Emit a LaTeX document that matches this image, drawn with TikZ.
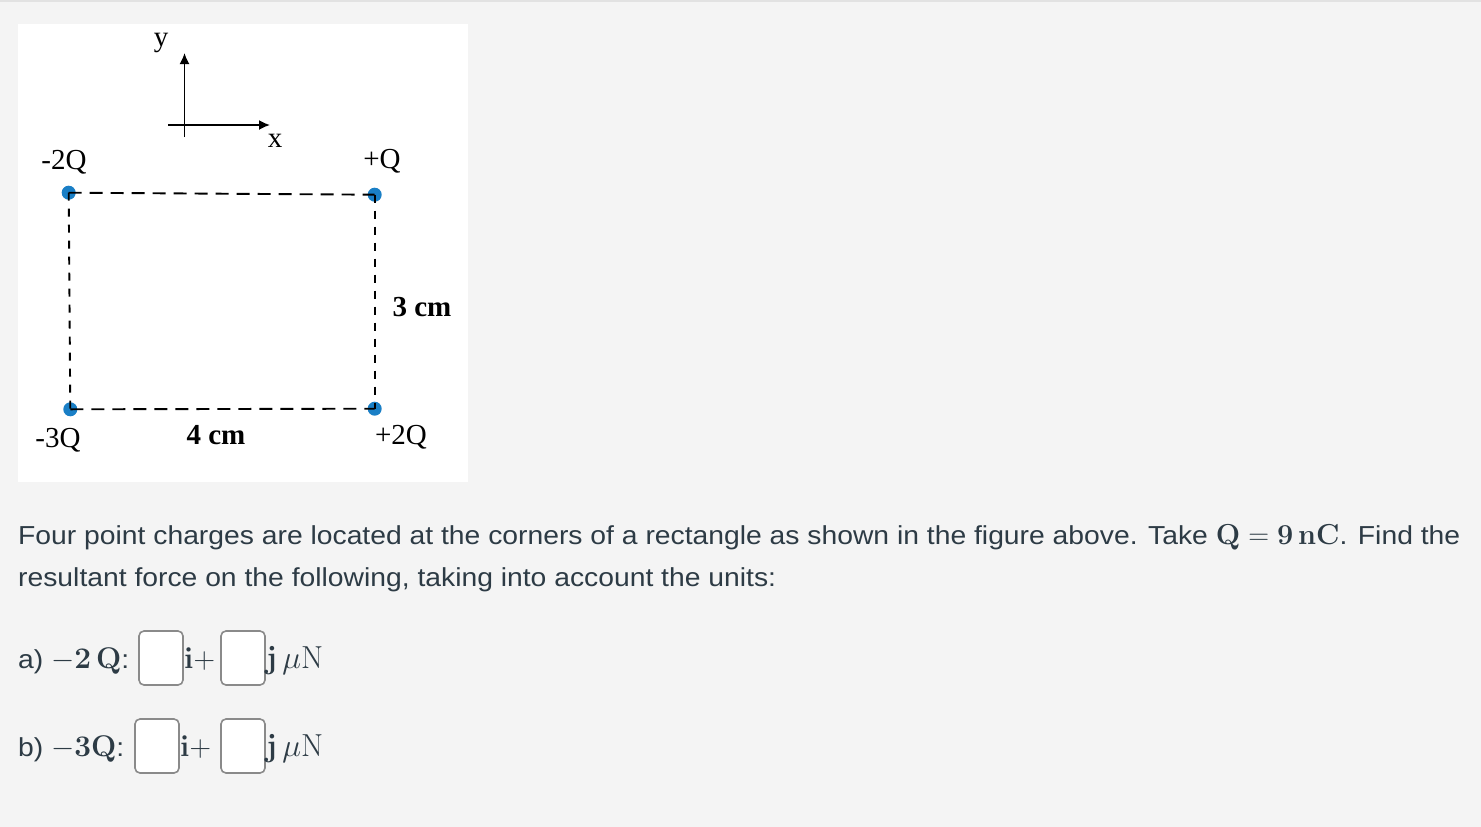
\documentclass[tikz,border=0pt]{standalone}
\usepackage{amsmath}
\usepackage{graphicx}
\usepackage[no-math]{fontspec}
\setmainfont{Liberation Serif}
\newfontfamily\uisans[FakeStretch=1.088]{Liberation Sans}
\usetikzlibrary{arrows.meta}
\definecolor{bgc}{HTML}{F4F4F4}
\definecolor{txc}{HTML}{2D3B45}
\definecolor{dotc}{HTML}{1A7FC6}
\definecolor{boxc}{HTML}{8A8A8A}
\definecolor{topc}{HTML}{E2E2E2}
\newcommand{\bigmath}[1]{\scalebox{1.2}{$#1$}}
\newcommand{\unitmath}[1]{\scalebox{1.28}{$#1$}}
\newcommand{\parmath}[1]{\scalebox{1.16}{$#1$}}
\tikzset{
  charge/.style={circle,fill=dotc,inner sep=0pt,minimum size=14pt},
  figlabel/.style={inner sep=0pt,font=\fontsize{29}{32}\selectfont},
  dimlabel/.style={inner sep=0pt,font=\fontsize{29}{32}\selectfont\bfseries},
  para/.style={inner sep=0pt,anchor=base west,text=txc,font=\uisans\fontsize{26}{30}\selectfont},
  ansbox/.style={draw=boxc,line width=1.6pt,fill=white,rounded corners=5pt,inner sep=0pt,minimum width=44pt,minimum height=54pt},
  hdash/.style={line width=1.9pt,dash pattern=on 13pt off 8pt},
  vdash/.style={line width=1.9pt,dash pattern=on 8pt off 8pt},
  axis/.style={line width=1.7pt,-{Latex[length=11pt,width=10pt]}}
}
\begin{document}
\begin{tikzpicture}[x=1pt,y=-1pt]
\useasboundingbox (0,0) rectangle (1481,827);
\fill[bgc] (0,0) rectangle (1481,827);
\fill[topc] (0,0) rectangle (1481,2);
\fill[white] (18,24) rectangle (468,482);
% axes
\coordinate (ybot) at (184.5,137);
\coordinate (ytop) at (184.5,53);
\coordinate (xleft) at (168,125);
\coordinate (xright) at (270,125);
\draw[axis] (ybot) -- (ytop);
\draw[axis] (xleft) -- (xright);
\node[figlabel] (ylab) at (161,43) {y};
\node[figlabel] (xlab) at (275,141) {x};
% charges
\node[charge] (qa) at (68.7,192.7) {};
\node[charge] (qb) at (374.7,194.7) {};
\node[charge] (qc) at (70.3,409.3) {};
\node[charge] (qd) at (374.7,408.7) {};
\draw[hdash] (qa.center) -- (qb.center);
\draw[hdash] (qc.center) -- (qd.center);
\draw[vdash] (qa.center) -- (qc.center);
\draw[vdash] (qb.center) -- (qd.center);
\node[figlabel] (la) at (64,162) {-2Q};
\node[figlabel] (lb) at (382,161) {+Q};
\node[figlabel] (lc) at (58,440) {-3Q};
\node[figlabel] (ld) at (401,437) {+2Q};
\node[dimlabel] (w) at (216,435) {4 cm};
\node[dimlabel] (h) at (422,307) {3 cm};
% paragraph
\node[para] (p1) at (18,544) {Four point charges are located at the corners of a rectangle as shown in the figure above. Take \parmath{\mathbf{Q}=\mathbf{9}\,\mathbf{nC}}. Find the};
\node[para] (p2) at (18,586) {resultant force on the following, taking into account the units:};
% part a
\node[para] (pa) at (18,668) {a) \bigmath{-\mathbf{2}\,\mathbf{Q}}:};
\node[ansbox] (a1) at (161,658) {};
\node[ansbox] (a2) at (243,658) {};
\node[para] (ai) at (184,668) {\bigmath{\mathbf{i}{+}}};
\node[para] (aj) at (266,668) {\unitmath{\mathbf{j}\,\mu\mathrm{N}}};
% part b
\node[para] (pb) at (18,756) {b) \bigmath{-\mathbf{3Q}}:};
\node[ansbox] (b1) at (157,746) {};
\node[ansbox] (b2) at (243,746) {};
\node[para] (bi) at (180,756) {\bigmath{\mathbf{i}{+}}};
\node[para] (bj) at (266,756) {\unitmath{\mathbf{j}\,\mu\mathrm{N}}};
\end{tikzpicture}
\end{document}
